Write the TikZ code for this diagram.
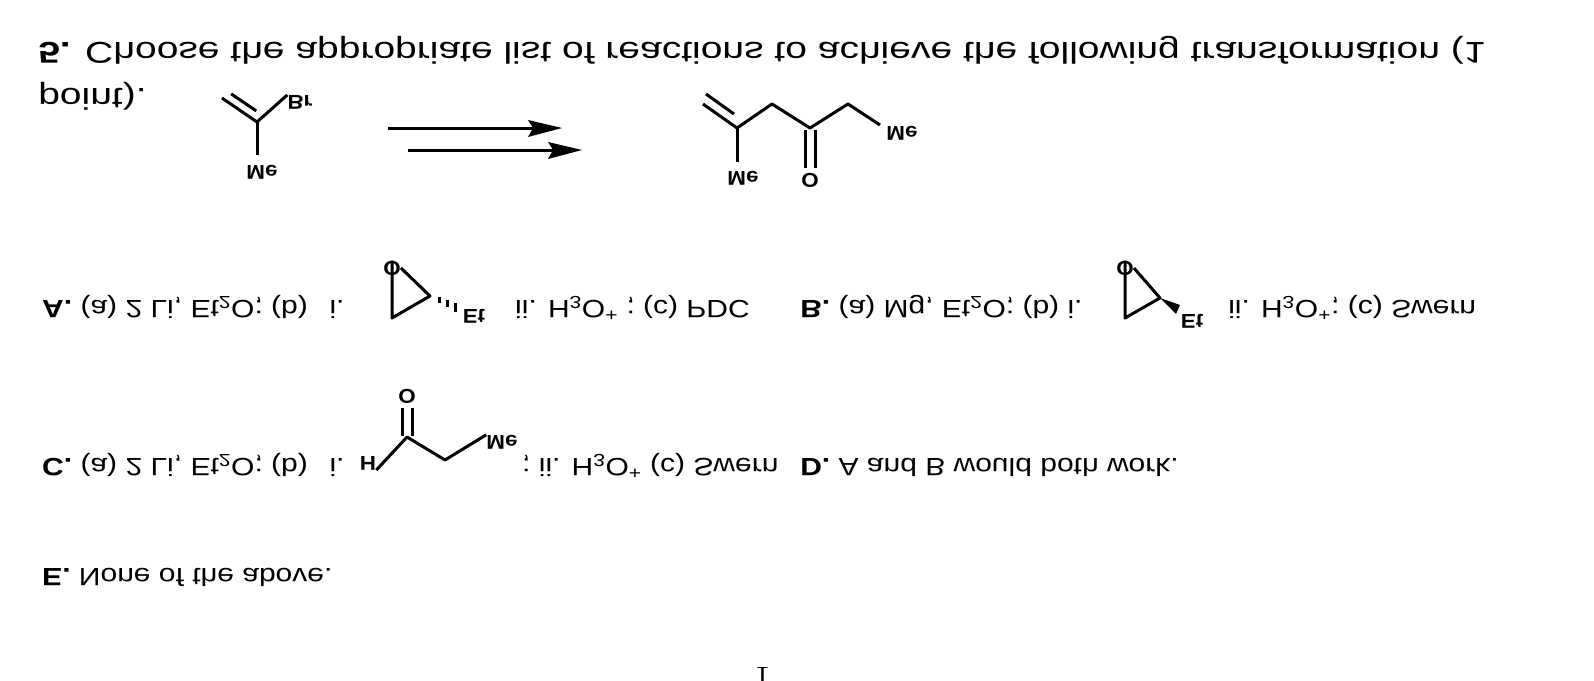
\documentclass[tikz,border=0pt]{standalone}
\usetikzlibrary{calc}
\usepackage{fontspec}
\setmainfont{Liberation Sans}
\newfontfamily\seriffont{Liberation Serif}
\begin{document}
\begin{tikzpicture}[x=1pt,y=-1pt,
  bond/.style={line width=3pt},
  lab/.style={font=\fontsize{20}{20}\selectfont\bfseries,inner sep=0pt,xscale=1.12,yscale=-1,transform shape},
  txt/.style={font=\fontsize{25}{28}\selectfont,anchor=base west,inner sep=0pt,xscale=1.2,yscale=-1,transform shape},
  ttl/.style={font=\fontsize{30}{30}\selectfont,anchor=base west,inner sep=0pt,xscale=1.3,yscale=-1,transform shape}]
\useasboundingbox (0,0) rectangle (1594,680);
\node[ttl] (t1) at (38,42) {\textbf{5.} Choose the appropriate list of reactions to achieve the following transformation (1};
\node[ttl] (t2) at (38,88) {point).};
% reactant
\coordinate (r1) at (222,98); \coordinate (r2) at (257,122); \coordinate (r3) at (257,155);
\node[lab] (br) at (300,102) {Br};
\node[lab] (me1) at (262,172) {Me};
\draw[bond] (r2) -- (br.south west);
\draw[bond] (r2) -- (r3);
\draw[bond] (r1) -- (r2);
\draw[bond] ($(r1)!0.12!(r2)$) ++(5,-7) -- ++(25,17);
% arrows
\coordinate (a1) at (388,128); \coordinate (a2) at (562,128);
\coordinate (a3) at (408,150); \coordinate (a4) at (582,150);
\draw[line width=3pt] (a1) -- (535,128); \fill (a2) -- (528,120) -- (533,128) -- (528,137) -- cycle;
\draw[line width=3pt] (a3) -- (555,150); \fill (a4) -- (548,142) -- (553,150) -- (548,159) -- cycle;
% product
\coordinate (p1) at (703,104); \coordinate (p2) at (737,128); \coordinate (p3) at (772,104);
\coordinate (p4) at (810,128); \coordinate (p5) at (848,104); \coordinate (p6) at (880,125);
\coordinate (p7) at (737,162);
\node[lab] (me2) at (902,133) {Me};
\node[lab] (me3) at (743,178) {Me};
\node[lab] (o1) at (810,180) {O};
\draw[bond,line join=round] (p1) -- (p2) -- (p3) -- (p4) -- (p5) -- (p6);
\draw[bond] (p2) -- (p7);
\draw[bond] (706,94) -- (734,114);
\draw[bond] (805,130) -- (805,168);
\draw[bond] (815,130) -- (815,168);
% A
\node[txt] (A) at (42,300) {\textbf{A.} (a) 2 Li, Et\textsubscript{2}O; (b) \ \,i.};
\node[lab] (oa) at (392,268) {O};
\coordinate (ea1) at (392,318); \coordinate (ea2) at (430,296);
\draw[bond,line join=round] (oa.south) -- (ea1) -- (ea2) -- (oa.east);
\foreach \t in {0.3,0.55,0.8} \draw[line width=3pt] ($(ea2)!\t!(462,310)$) ++(0,-2-\t*3) -- ++(0,4+\t*6);
\node[lab] (eta) at (474,316) {Et};
\node[txt] (A2) at (515,300) {ii. H\textsubscript{3}O\textsuperscript{+} ; (c) PDC};
% B
\node[txt] (B) at (800,300) {\textbf{B.} (a) Mg, Et\textsubscript{2}O; (b) i.};
\node[lab] (ob) at (1125,268) {O};
\coordinate (eb1) at (1125,318); \coordinate (eb2) at (1160,298);
\draw[bond,line join=round] (ob.south) -- (eb1) -- (eb2) -- (ob.east);
\fill (eb2) -- (1180,305) -- (1176,314) -- cycle;
\node[lab] (etb) at (1192,321) {Et};
\node[txt] (B2) at (1228,300) {ii. H\textsubscript{3}O\textsuperscript{+}; (c) Swern};
% C
\node[txt] (C) at (42,458) {\textbf{C.} (a) 2 Li, Et\textsubscript{2}O; (b) \ \,i.};
\node[lab] (oc) at (407,396) {O};
\node[lab] (hc) at (368,463) {H};
\node[lab] (mec) at (502,442) {Me};
\coordinate (c1) at (407,437); \coordinate (c2) at (445,460);
\draw[bond,line join=round] (hc.north east) -- (c1) -- (c2) -- (mec.south west);
\draw[bond] (402,408) -- (402,436); \draw[bond] (412,408) -- (412,436);
\node[txt] (C2) at (522,458) {; ii. H\textsubscript{3}O\textsuperscript{+} (c) Swern};
\node[txt] (D) at (800,458) {\textbf{D.} A and B would both work.};
\node[txt] (E) at (42,568) {\textbf{E.} None of the above.};
\node[font=\seriffont\fontsize{30}{30}\selectfont,anchor=base,inner sep=0pt,yscale=-1,transform shape] (pg) at (762,667) {1};
\end{tikzpicture}
\end{document}
